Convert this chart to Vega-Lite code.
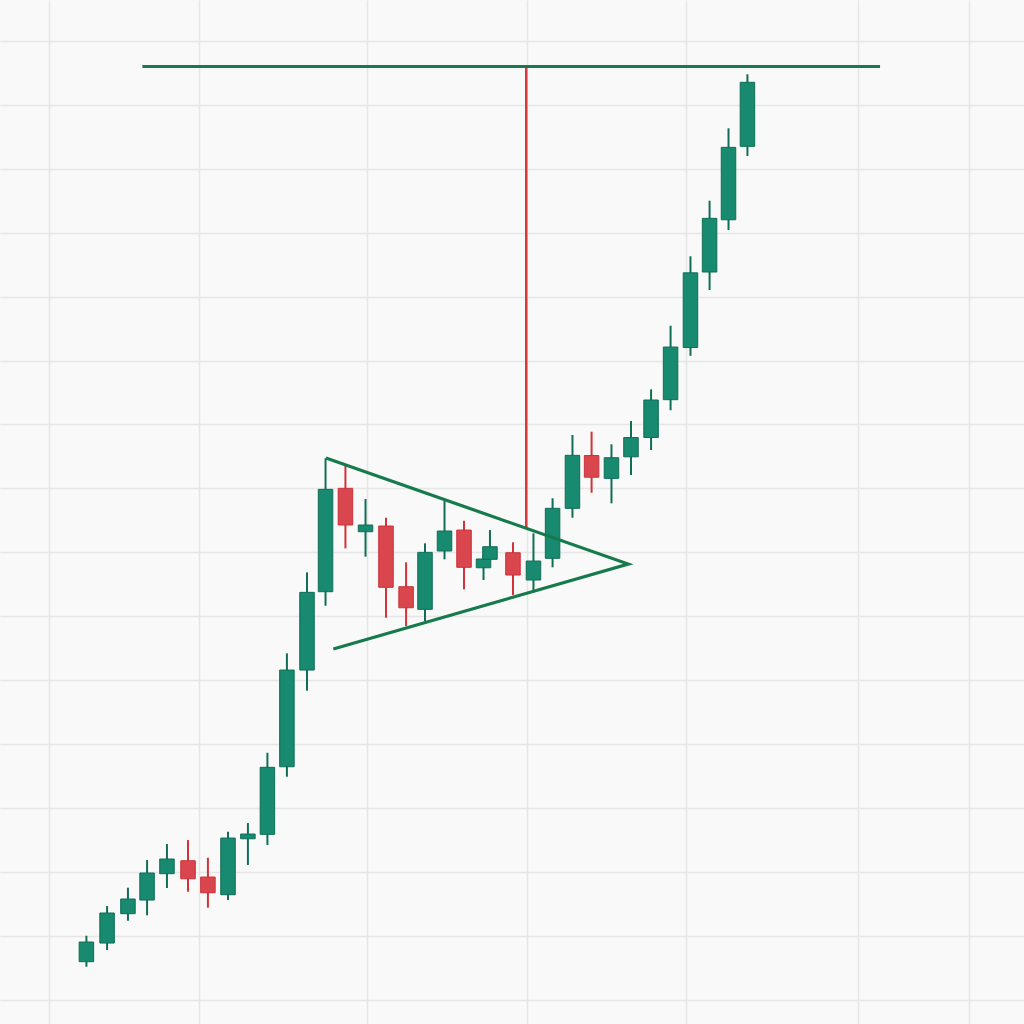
{
  "$schema": "https://vega.github.io/schema/vega-lite/v6.json",
  "width": 1024,
  "height": 1024,
  "autosize": {"type": "fit", "contains": "padding"},
  "padding": 0,
  "background": "#f9f9f9",
  "config": {"view": {"stroke": null}, "scale": {"continuousPadding": 0}},
  "datasets": {
    "candles": [
      {"t": 1.03, "open": 5.92, "high": 9.98, "low": 5.13, "close": 9.00},
      {"t": 2.09, "open": 8.84, "high": 14.63, "low": 7.75, "close": 13.54},
      {"t": 3.16, "open": 13.43, "high": 17.50, "low": 12.33, "close": 15.73},
      {"t": 4.14, "open": 15.57, "high": 21.83, "low": 13.18, "close": 19.80},
      {"t": 5.16, "open": 19.69, "high": 24.33, "low": 17.45, "close": 21.99},
      {"t": 6.24, "open": 21.72, "high": 24.96, "low": 16.87, "close": 18.90},
      {"t": 7.26, "open": 19.17, "high": 22.19, "low": 14.37, "close": 16.71},
      {"t": 8.29, "open": 16.40, "high": 26.26, "low": 15.57, "close": 25.27},
      {"t": 9.31, "open": 25.16, "high": 27.62, "low": 21.05, "close": 25.90},
      {"t": 10.31, "open": 25.85, "high": 38.62, "low": 24.18, "close": 36.34},
      {"t": 11.31, "open": 36.43, "high": 54.18, "low": 34.87, "close": 51.56},
      {"t": 12.34, "open": 51.56, "high": 66.85, "low": 48.33, "close": 63.72},
      {"t": 13.29, "open": 63.82, "high": 84.69, "low": 61.63, "close": 79.84},
      {"t": 14.31, "open": 80.00, "high": 83.49, "low": 70.61, "close": 74.26},
      {"t": 15.34, "open": 73.21, "high": 78.33, "low": 69.30, "close": 74.26},
      {"t": 16.39, "open": 74.10, "high": 75.40, "low": 59.75, "close": 64.51},
      {"t": 17.42, "open": 64.60, "high": 68.42, "low": 58.45, "close": 61.31},
      {"t": 18.39, "open": 61.06, "high": 71.39, "low": 59.23, "close": 69.98},
      {"t": 19.39, "open": 70.19, "high": 78.01, "low": 68.89, "close": 73.32},
      {"t": 20.39, "open": 73.47, "high": 74.93, "low": 64.19, "close": 67.64},
      {"t": 21.39, "open": 67.57, "high": 69.5, "low": 65.65, "close": 68.94},
      {"t": 21.72, "open": 68.89, "high": 73.47, "low": 68.89, "close": 70.86},
      {"t": 22.90, "open": 69.92, "high": 71.55, "low": 63.30, "close": 66.43},
      {"t": 23.95, "open": 65.65, "high": 72.96, "low": 63.97, "close": 68.62},
      {"t": 24.93, "open": 69.05, "high": 78.44, "low": 67.64, "close": 76.87},
      {"t": 25.95, "open": 76.87, "high": 88.34, "low": 75.40, "close": 85.16},
      {"t": 26.93, "open": 85.13, "high": 88.86, "low": 79.31, "close": 81.74},
      {"t": 27.95, "open": 81.56, "high": 86.89, "low": 77.65, "close": 84.79},
      {"t": 28.95, "open": 84.93, "high": 90.53, "low": 82.08, "close": 87.95},
      {"t": 29.98, "open": 87.95, "high": 95.49, "low": 85.99, "close": 93.82},
      {"t": 30.98, "open": 93.87, "high": 105.45, "low": 92.22, "close": 102.11},
      {"t": 32.00, "open": 102.03, "high": 116.31, "low": 100.74, "close": 113.72},
      {"t": 32.98, "open": 113.85, "high": 125.01, "low": 111.03, "close": 122.25},
      {"t": 33.95, "open": 122.03, "high": 136.34, "low": 120.42, "close": 133.36},
      {"t": 34.92, "open": 133.52, "high": 144.79, "low": 132.00, "close": 143.54}
    ],
    "triangle": [
      {"k": 1, "t": 13.69, "p": 54.85},
      {"k": 2, "t": 28.81, "p": 68.15},
      {"k": 3, "t": 13.31, "p": 84.74}
    ],
    "target": [{"t1": 3.90, "t2": 41.72, "p": 146.01}],
    "move": [{"t": 23.58, "p1": 73.94, "p2": 146.01}]
  },
  "layer": [
    {
      "data": {"name": "candles"},
      "mark": {"type": "rule", "strokeWidth": 2},
      "encoding": {
        "x": {
          "field": "t", "type": "quantitative",
          "scale": {"domain": [-3.4, 49.1], "nice": false, "zero": false, "padding": 0},
          "axis": {"title": null, "labels": false, "ticks": false, "domain": false,
                   "values": [-0.91, 6.80, 15.42, 23.62, 31.77, 40.59, 46.28],
                   "grid": true, "gridColor": "#e6e6e6", "gridWidth": 1.5}
        },
        "y": {
          "field": "low", "type": "quantitative",
          "scale": {"domain": [-3.83, 156.42], "nice": false, "zero": false, "padding": 0},
          "axis": {"title": null, "labels": false, "ticks": false, "domain": false,
                   "values": [0, 10, 20, 30, 40, 50, 60, 70, 80, 90, 100, 110, 120, 130, 140, 150],
                   "grid": true, "gridColor": "#e6e6e6", "gridWidth": 1.5}
        },
        "y2": {"field": "high"},
        "color": {
          "condition": {"test": "datum.open < datum.close", "value": "#0f6e55"},
          "value": "#d2323a"
        }
      }
    },
    {
      "data": {"name": "candles"},
      "mark": {"type": "bar", "size": 14.5, "strokeWidth": 1},
      "encoding": {
        "x": {"field": "t", "type": "quantitative"},
        "y": {"field": "open", "type": "quantitative"},
        "y2": {"field": "close"},
        "fill": {
          "condition": {"test": "datum.open < datum.close", "value": "#178a6f"},
          "value": "#d9464d"
        },
        "stroke": {
          "condition": {"test": "datum.open < datum.close", "value": "#0f6e55"},
          "value": "#cc3038"
        }
      }
    },
    {
      "data": {"name": "move"},
      "mark": {"type": "rule", "strokeWidth": 2.5, "color": "#d43a3c"},
      "encoding": {
        "x": {"field": "t", "type": "quantitative"},
        "y": {"field": "p1", "type": "quantitative"},
        "y2": {"field": "p2"}
      }
    },
    {
      "data": {"name": "triangle"},
      "mark": {"type": "line", "strokeWidth": 3.2, "color": "#167a4d", "strokeJoin": "miter"},
      "encoding": {
        "x": {"field": "t", "type": "quantitative"},
        "y": {"field": "p", "type": "quantitative"},
        "order": {"field": "k", "type": "quantitative"}
      }
    },
    {
      "data": {"name": "target"},
      "mark": {"type": "rule", "strokeWidth": 3, "color": "#167a4d"},
      "encoding": {
        "x": {"field": "t1", "type": "quantitative"},
        "x2": {"field": "t2"},
        "y": {"field": "p", "type": "quantitative"}
      }
    }
  ]
}
